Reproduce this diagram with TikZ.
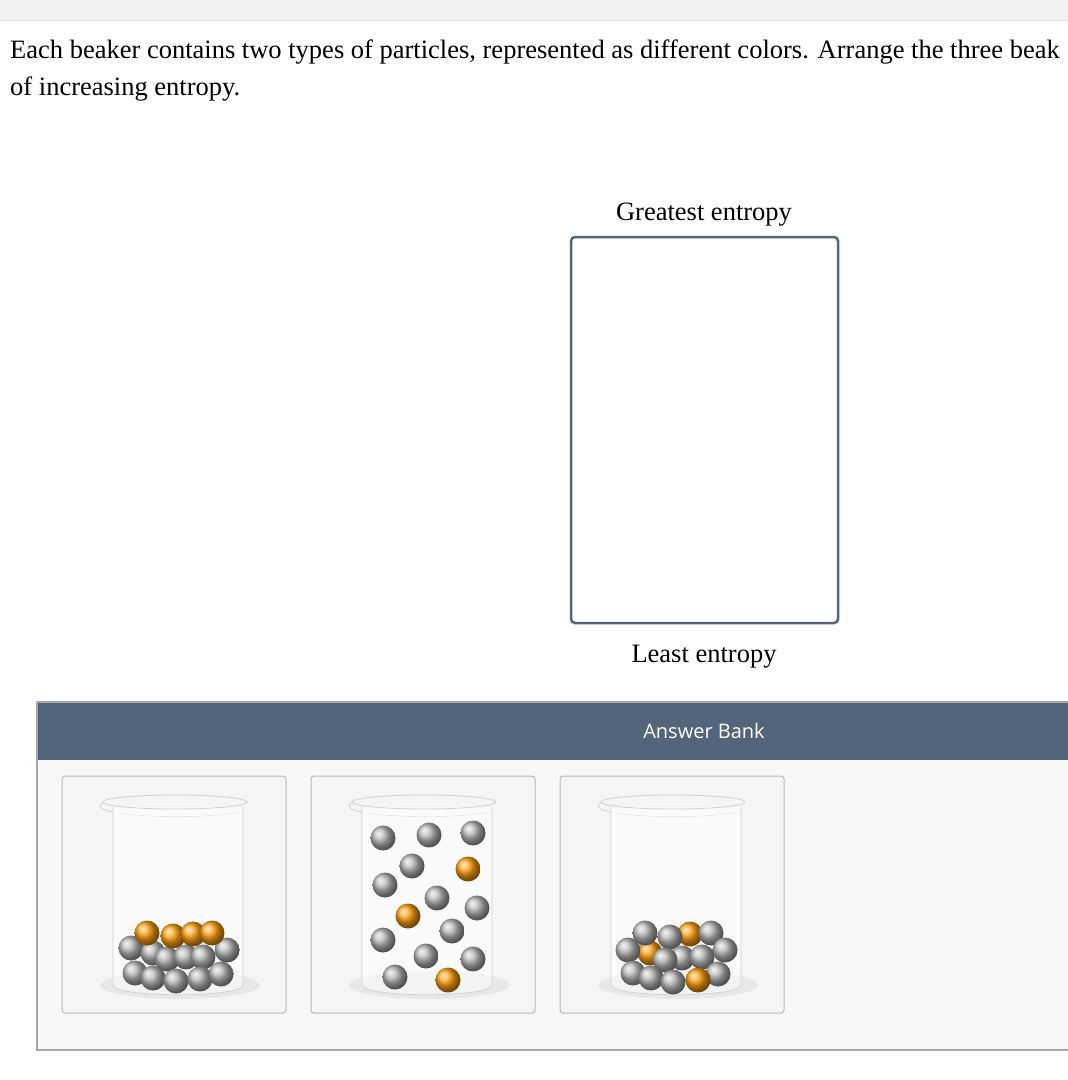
\documentclass[tikz,border=0pt]{standalone}
\usepackage{fontspec}
\setmainfont{Liberation Serif}
\newfontfamily\ui{Open Sans}
\definecolor{slate}{HTML}{53657B}
\definecolor{org}{HTML}{FFA010}
\begin{document}
\begin{tikzpicture}[x=1pt,y=-1pt,
  gp/.style={circle,minimum size=25pt,inner sep=0pt,ball color=gray!55,draw=none},
  op/.style={circle,minimum size=25pt,inner sep=0pt,ball color=org,draw=none},
  card/.style={draw=gray!55,line width=1pt,rounded corners=3pt,fill=gray!8}]
\useasboundingbox (0,0) rectangle (1068,1080);
\fill[gray!10] (0,0) rectangle (1068,20);
\draw[gray!25] (0,20.5) -- (1068,20.5);
\node[anchor=north west,inner sep=0pt,font=\fontsize{26.5}{37}\selectfont,align=left] (q) at (10,40)
 {Each beaker contains two types of particles, represented as different colors. Arrange the three beak\\of increasing entropy.};
\node[font=\fontsize{26.5}{30}\selectfont] (g) at (704,215) {Greatest entropy};
\draw[slate,line width=2.5pt,rounded corners=4pt] (571,237) rectangle (838,623);
\node (box) at (704,430) {};
\node[font=\fontsize{26.5}{30}\selectfont] (l) at (704,657) {Least entropy};
\draw[gray!70,line width=2.5pt,fill=gray!6] (1070,702) -- (37,702) -- (37,1050) -- (1070,1050);
\fill[slate] (38,703) rectangle (1068,760);
\node[white,font=\ui\fontsize{20}{22}\selectfont] (ab) at (704,731) {Answer Bank};
\foreach \o in {0,249,498}{
 \begin{scope}[xshift=\o]
  \draw[card] (62,776) rectangle (286,1013);
  \fill[gray!18] (180,985) ellipse (80 and 14);
  \fill[white,opacity=.5] (113,807) -- (113,985) .. controls (113,998) and (243,998) .. (243,985) -- (243,807) -- cycle;
  \draw[gray!35,line width=.8pt] (113,807) -- (113,985) .. controls (113,998) and (243,998) .. (243,985) -- (243,807);
  \draw[gray!35,line width=.8pt] (175,802) ellipse (72 and 7);
  \draw[gray!35,line width=.8pt] (103,803) .. controls (97,805) and (100,810) .. (113,812);
  \draw[gray!20,line width=.6pt] (118,813) .. controls (150,818) and (210,818) .. (240,812);
 \end{scope}}
% beaker 1
\foreach \p in {(131,948),(153,953),(167,959),(186,957),(203,957),(227,950),(135,973),(153,978),(176,981),(200,979),(221,974)} \node[gp] at \p {};
\foreach \p in {(147,933),(173,936),(193,934),(212,933)} \node[op] at \p {};
% beaker 2
\foreach \p in {(383,838),(429,835),(473,833),(412,866),(385,885),(437,898),(477,908),(383,940),(452,931),(426,956),(473,959),(395,977)} \node[gp] at \p {};
\foreach \p in {(468,869),(408,916),(448,980)} \node[op] at \p {};
% beaker 3
\foreach \p in {(690,934),(650,953)} \node[op] at \p {};
\foreach \p in {(645,933),(670,937),(711,933),(628,950),(682,958),(665,960),(702,957),(725,950),(633,973),(651,978),(673,982),(718,974)} \node[gp] at \p {};
\node[op] at (698,980) {};
\end{tikzpicture}
\end{document}
